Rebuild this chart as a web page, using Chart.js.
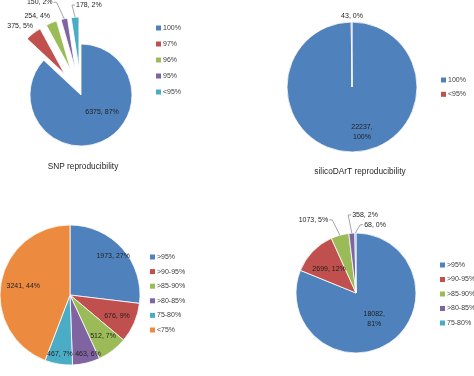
<!DOCTYPE html>
<html>
<head>
<meta charset="utf-8">
<script src="https://cdn.jsdelivr.net/npm/chart.js@4.4.0/dist/chart.umd.min.js"></script>
<style>
  body { margin: 0; background: #fff; }
  #wrap { position: relative; width: 474px; height: 376px; overflow: hidden; }
  canvas { position: absolute; }
</style>
</head>
<body>
<div id="wrap">
  <canvas id="snpRepro" width="237" height="188" style="left:0;top:0"></canvas>
  <canvas id="dartRepro" width="237" height="188" style="left:237px;top:0"></canvas>
  <canvas id="snpRate" width="237" height="188" style="left:0;top:188px"></canvas>
  <canvas id="dartRate" width="237" height="188" style="left:237px;top:188px"></canvas>
</div>
<script>
// SNP reproducibility
const snpLabels = ['100%', '97%', '96%', '95%', '<95%'];
const snpCounts = [6375, 375, 254, 150, 178];
// silicoDArT reproducibility
const dartLabels = ['100%', '<95%'];
const dartCounts = [22237, 43];
// SNP classes (bottom left)
const snpRateLabels = ['>95%', '>90-95%', '>85-90%', '>80-85%', '75-80%', '<75%'];
const snpRateCounts = [1973, 676, 512, 463, 467, 3241];
// silicoDArT classes (bottom right)
const dartRateLabels = ['>95%', '>90-95%', '>85-90%', '>80-85%', '75-80%'];
const dartRateCounts = [18082, 2699, 1073, 358, 68];

const excelColors = ['#4F81BD', '#C0504D', '#9BBB59', '#8064A2', '#4BACC6', '#EC8B3F'];
const smallFont = '7px "Liberation Sans"';
const titleFont = '8.3px "Liberation Sans"';

// whole percents that add up to 100 (largest remainder), like the spreadsheet labels
function roundedPercents(values) {
  const total = values.reduce((a, b) => a + b, 0);
  const raw = values.map(v => v / total * 100);
  const out = raw.map(Math.floor);
  let left = 100 - out.reduce((a, b) => a + b, 0);
  raw.map((p, i) => [p - Math.floor(p), i])
    .sort((a, b) => b[0] - a[0])
    .forEach(([, i]) => { if (left > 0) { out[i]++; left--; } });
  return out;
}

// pulls slices out, writes "value, pct" labels, draws legend + title
const pieExtras = {
  id: 'pieExtras',
  afterDatasetsUpdate(chart) {
    const ds = chart.data.datasets[0];
    const explode = ds.explode || [];
    chart.getDatasetMeta(0).data.forEach((arc, i) => {
      const d = explode[i] || 0;
      if (!d) return;
      const mid = (arc.startAngle + arc.endAngle) / 2;
      arc.x += Math.cos(mid) * d;
      arc.y += Math.sin(mid) * d;
    });
  },
  afterDraw(chart, args, opts) {
    const ctx = chart.ctx;
    const ds = chart.data.datasets[0];
    const meta = chart.getDatasetMeta(0);
    const pcts = roundedPercents(ds.data);
    const ca = chart.chartArea;
    const cx = (ca.left + ca.right) / 2, cy = (ca.top + ca.bottom) / 2;
    ctx.save();
    ctx.font = smallFont;
    ctx.textBaseline = 'middle';
    ctx.textAlign = 'center';
    (opts.spots || []).forEach((s, i) => {
      const arc = meta.data[i];
      const r0 = arc.outerRadius;
      const a = (s.a - 90) * Math.PI / 180;
      const x = cx + Math.cos(a) * s.r * r0;
      const y = cy + Math.sin(a) * s.r * r0;
      const v = ds.data[i];
      const pct = pcts[i] + '%';
      const lines = s.split ? [v + ',', pct] : [v + ', ' + pct];
      ctx.fillStyle = '#1f1f1f';
      lines.forEach((t, k) => ctx.fillText(t, x, y + (k - (lines.length - 1) / 2) * 9.5));
      if (s.line) {
        const mid = (arc.startAngle + arc.endAngle) / 2;
        const px = arc.x + Math.cos(mid) * r0, py = arc.y + Math.sin(mid) * r0;
        const dir = px > x ? 1 : -1;
        const ex = x + dir * (ctx.measureText(lines[0]).width / 2 + 1);
        ctx.strokeStyle = '#808080';
        ctx.lineWidth = 0.7;
        ctx.beginPath();
        ctx.moveTo(ex, y);
        ctx.lineTo(ex + dir * 3, y);
        ctx.lineTo(px, py);
        ctx.stroke();
      }
    });

    const lg = opts.legend;
    ctx.textAlign = 'left';
    chart.data.labels.forEach((lab, i) => {
      const y = lg.y + i * lg.gap;
      ctx.fillStyle = ds.backgroundColor[i];
      ctx.fillRect(lg.x, y - 2.5, 5, 5);
      ctx.fillStyle = '#404040';
      ctx.fillText(lab, lg.x + 7, y);
    });

    if (opts.title) {
      ctx.font = titleFont;
      ctx.textAlign = 'center';
      ctx.fillStyle = '#262626';
      ctx.fillText(opts.title.text, opts.title.x, opts.title.y);
    }
    ctx.restore();
  }
};

function centeredPadding(cx, cy, w, h) {
  return {
    left: Math.max(2 * cx - w, 0), right: Math.max(w - 2 * cx, 0),
    top: Math.max(2 * cy - h, 0), bottom: Math.max(h - 2 * cy, 0)
  };
}

function makePie(id, labels, counts, setup) {
  return new Chart(document.getElementById(id), {
    type: 'pie',
    data: {
      labels: labels,
      datasets: [{
        data: counts,
        backgroundColor: excelColors.slice(0, counts.length),
        borderColor: '#ffffff',
        borderWidth: 0.8,
        radius: setup.radius,
        explode: setup.explode || []
      }]
    },
    options: {
      responsive: false,
      animation: false,
      events: [],
      devicePixelRatio: 1,
      layout: { padding: centeredPadding(setup.cx, setup.cy, 237, 188) },
      plugins: {
        legend: { display: false },
        tooltip: { enabled: false },
        pieExtras: { spots: setup.spots, legend: setup.legend, title: setup.title }
      }
    },
    plugins: [pieExtras]
  });
}

makePie('snpRepro', snpLabels, snpCounts, {
  cx: 81, cy: 95, radius: 51,
  explode: [0, 27, 27, 27, 27],
  spots: [
    { r: 0.53, a: 129 },
    { r: 1.80, a: 318.5 },
    { r: 1.77, a: 331 },
    { r: 1.99, a: 336, line: true },
    { r: 1.77, a: 5, line: true }
  ],
  legend: { x: 156, y: 28, gap: 16 },
  title: { text: 'SNP reproducibility', x: 83, y: 167 }
});

makePie('dartRepro', dartLabels, dartCounts, {
  cx: 115, cy: 87, radius: 65,
  spots: [
    { r: 0.71, a: 167.5, split: true },
    { r: 1.09, a: 0 }
  ],
  legend: { x: 204, y: 80, gap: 14.3 },
  title: { text: 'silicoDArT reproducibility', x: 123, y: 172 }
});

makePie('snpRate', snpRateLabels, snpRateCounts, {
  cx: 70, cy: 107, radius: 70,
  spots: [
    { r: 0.83, a: 48 },
    { r: 0.735, a: 114 },
    { r: 0.75, a: 141 },
    { r: 0.88, a: 163 },
    { r: 0.86, a: 189.6 },
    { r: 0.68, a: 281 }
  ],
  legend: { x: 150, y: 69, gap: 14.6 }
});

makePie('dartRate', dartRateLabels, dartRateCounts, {
  cx: 119, cy: 105, radius: 60,
  spots: [
    { r: 0.53, a: 145, split: true },
    { r: 0.60, a: 311.6 },
    { r: 1.41, a: 329.8, line: true },
    { r: 1.31, a: 6.6, line: true },
    { r: 1.18, a: 15.6, line: true }
  ],
  legend: { x: 203, y: 77, gap: 14.5 }
});
</script>
</body>
</html>
